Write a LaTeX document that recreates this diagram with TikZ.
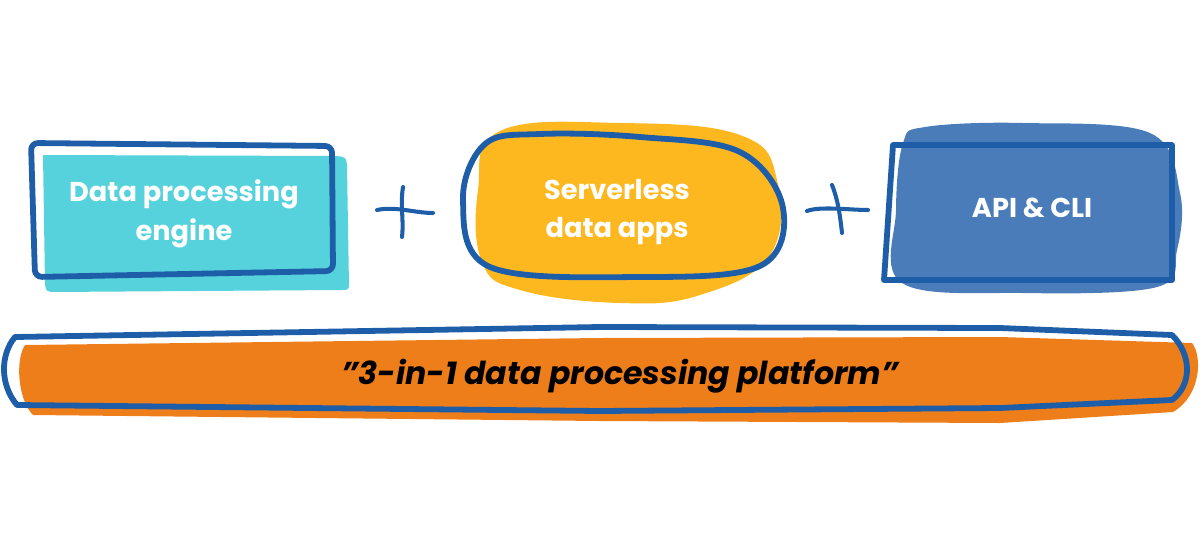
\documentclass[tikz,border=0pt]{standalone}
\usepackage{fontspec}
\setmainfont{Poppins}
\usetikzlibrary{positioning}
\definecolor{EngineCyan}{HTML}{55D2DB}
\definecolor{AppsAmber}{HTML}{FDB81F}
\definecolor{CliBlue}{HTML}{4A7CB9}
\definecolor{InkBlue}{HTML}{1E5DA8}
\definecolor{PlatformOrange}{HTML}{EE7E1A}
\newcommand{\BoxFont}{\bfseries\fontsize{15.5pt}{22pt}\selectfont}
\newcommand{\BarFont}{\bfseries\itshape\fontsize{18pt}{22pt}\selectfont}

\begin{document}
\begin{tikzpicture}[x=0.02cm, y=-0.02cm, line cap=round, line join=round,
  ink/.style={InkBlue, line width=3.3pt},
  plus/.style={InkBlue, line width=2.3pt},
  boxlabel/.style={text=white, font=\BoxFont, align=center, inner sep=0pt}]
  \useasboundingbox (0,0) rectangle (1200,545);
  % engine
  \fill[EngineCyan] (43,155) -- (336,156) .. controls (346,157) .. (347,166)
    -- (349,286) .. controls (348,290) .. (340,290) -- (52,292) .. controls (46,291) .. (45,284) -- cycle;
  \draw[ink, rounded corners=4pt] (31,143) -- (332,146) -- (333,271) -- (35,277) -- cycle;
  \node[boxlabel] (engine) at (184,214) {Data processing\\engine};
  % serverless apps
  \fill[AppsAmber] plot[smooth cycle, tension=0.7] coordinates {
    (500,131) (620,123) (740,135) (777,180) (770,255) (700,295)
    (620,303) (520,290) (482,262) (478,190)};
  \draw[ink] plot[smooth cycle, tension=0.6] coordinates {
    (463,200) (485,144) (540,134) (640,137) (740,152) (783,208)
    (760,266) (640,277) (490,267)};
  \node[boxlabel] (apps) at (617,212) {Serverless\\data apps};
  % api and cli
  \fill[CliBlue] plot[smooth cycle, tension=0.6] coordinates {
    (903,143) (925,127) (1023,123) (1150,133) (1180,193) (1177,250)
    (1157,287) (1023,293) (902,283) (896,210)};
  \draw[ink] (893,145) -- (1172,145) -- (1172,280) -- (884,280) -- cycle;
  \node[boxlabel] (cli) at (1032,208) {API \& CLI};
  % plus signs
  \draw[plus] (377,210) .. controls (395,206) and (415,213) .. (433,213);
  \draw[plus] (403,187) .. controls (400,205) and (404,220) .. (402,237);
  \draw[plus] (807,211) .. controls (820,206) and (850,210) .. (868,210);
  \draw[plus] (832,185) .. controls (838,200) and (840,215) .. (842,233);
  % platform bar
  \fill[PlatformOrange] (25,345) -- (600,338) -- (1000,337) -- (1192,343)
    .. controls (1202,355) and (1202,395) .. (1173,412) -- (1000,423) -- (600,421)
    -- (33,415) .. controls (18,400) and (15,360) .. cycle;
  \draw[ink] (15,337) -- (600,327) -- (1000,328) -- (1172,335)
    .. controls (1192,355) and (1192,385) .. (1172,400) -- (1000,408) -- (600,411)
    -- (17,405) .. controls (0,385) and (0,355) .. cycle;
  \node[font=\BarFont, text=black, inner sep=0pt] (platform) at (620,376) {"3-in-1 data processing platform"};
\end{tikzpicture}
\end{document}
